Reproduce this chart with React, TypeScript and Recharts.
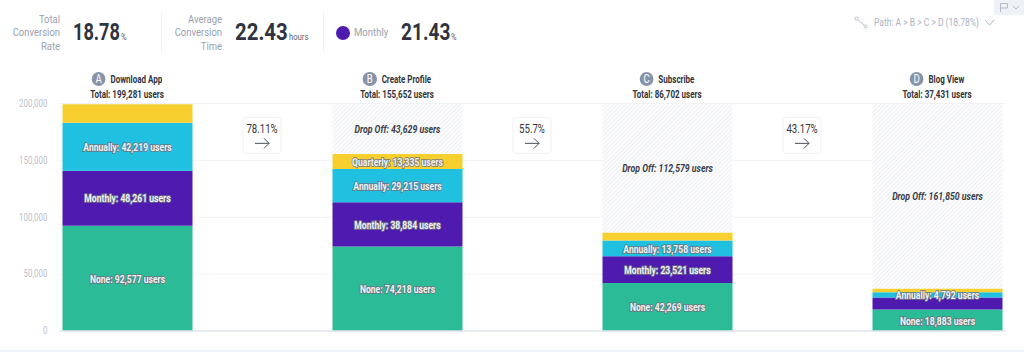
import { Bar, BarChart, CartesianGrid, LabelList, ReferenceDot, ReferenceLine, XAxis, YAxis } from 'recharts';

const steps = ['Download App', 'Create Profile', 'Subscribe', 'Blog View'];
const letters = ['A', 'B', 'C', 'D'];
const totals = ['199,281', '155,652', '86,702', '37,431'];
const conversions = ['78.11%', '55.7%', '43.17%'];

const none = [92577, 74218, 42269, 18883];
const monthly = [48261, 38884, 23521, 10500];
const annually = [42219, 29215, 13758, 4792];
const quarterly = [16224, 13335, 7154, 3256];
const dropOff = [0, 43629, 112579, 161850];

const monthlyShown = [true, true, true, false];
const quarterlyShown = [false, true, false, false];
const yTicks = [0, 50000, 100000, 150000, 200000];

const FONT = 'Roboto, sans-serif';

// steps sit on every other band, the conversion cards on the bands between them
const data = steps.flatMap((step, i) => {
    const row = {
        name: step,
        none: none[i],
        monthly: monthly[i],
        annually: annually[i],
        quarterly: quarterly[i],
        dropOff: dropOff[i],
    };
    return i < conversions.length ? [row, { name: conversions[i] }] : [row];
});

const StepTick = ({ x, y, payload }: any) => {
    const i = steps.indexOf(payload.value);
    if (i < 0) return null;
    return (
        <foreignObject x={x - 100} y={y - 30} width={200} height={34}>
            <div style={{ fontFamily: FONT, color: '#30343c', fontSize: 10, fontWeight: 700, textAlign: 'center', lineHeight: '15px', transform: 'scaleX(0.8)' }}>
                <div style={{ display: 'flex', justifyContent: 'center', alignItems: 'center', gap: 6 }}>
                    <span style={{ width: 17.5, height: 14, borderRadius: '50%', background: '#8793a8', color: '#fff', fontSize: 12, fontWeight: 400, lineHeight: '14px' }}>{letters[i]}</span>
                    <span>{payload.value}</span>
                </div>
                <div>Total: {totals[i]} users</div>
            </div>
        </foreignObject>
    );
};

const ValueTick = ({ x, y, payload }: any) => (
    <text transform={`translate(${x},${y}) scale(0.8,1)`} textAnchor="end" dominantBaseline="central" fontFamily={FONT} fontSize={10} fill="#bcc3ce">
        {payload.value.toLocaleString('en-US')}
    </text>
);

const segmentLabel = (title: string, shown?: boolean[]) => (props: any) => {
    const { x, y, width, height, value, index } = props;
    if (!value || (shown && !shown[index])) return null;
    return (
        <text
            transform={`translate(${x + width / 2},${y + height / 2 + 0.5}) scale(0.86,1)`}
            textAnchor="middle"
            dominantBaseline="central"
            fontFamily={FONT}
            fontSize={10}
            fontWeight={700}
            fill="#eef0f3"
            stroke="#6f7480"
            strokeWidth={2}
            strokeOpacity={0.8}
            paintOrder="stroke"
        >
            {title}: {value.toLocaleString('en-US')} users
        </text>
    );
};

const dropLabel = (props: any) => {
    const { x, y, width, height, value } = props;
    if (!value) return null;
    return (
        <text
            transform={`translate(${x + width / 2},${y + height / 2}) scale(0.87,1)`}
            textAnchor="middle"
            dominantBaseline="central"
            fontFamily={FONT}
            fontSize={10}
            fontWeight={700}
            fontStyle="italic"
            fill="#3a3f4a"
        >
            Drop Off: {value.toLocaleString('en-US')} users
        </text>
    );
};

const ConversionCard = (label: string) => ({ cx, cy }: any) => (
    <g>
        <rect x={cx - 19} y={cy - 18} width={38} height={36} rx={3} fill="#fff" stroke="#f0f1f4" />
        <text transform={`translate(${cx},${cy - 6}) scale(0.77,1)`} textAnchor="middle" dominantBaseline="central" fontFamily={FONT} fontSize={12.5} fill="#33373f">{label}</text>
        <path d={`M${cx - 7} ${cy + 8}H${cx + 7}M${cx + 2} ${cy + 3}L${cx + 7} ${cy + 8}L${cx + 2} ${cy + 13}`} fill="none" stroke="#4a4e57" strokeWidth={1} />
    </g>
);

const Metric = ({ lines, value, unit, right, unitLeft, squeeze }: { lines: string[]; value: string; unit: string; right: number; unitLeft: number; squeeze: number }) => (
    <>
        <div style={{ position: 'absolute', left: 0, top: 13, width: right, textAlign: 'right', fontSize: 11, lineHeight: '13.3px', color: '#98a1af', transform: 'scaleX(0.86)', transformOrigin: 'right' }}>
            {lines.map((line) => <div key={line}>{line}</div>)}
        </div>
        <div style={{ position: 'absolute', left: right + 12.5, top: 19, fontSize: 23, fontWeight: 700, lineHeight: '28px', color: '#2f3440', transform: `scaleX(${squeeze})`, transformOrigin: 'left' }}>{value}</div>
        <div style={{ position: 'absolute', left: unitLeft, top: 31, fontSize: 9, lineHeight: '12px', color: '#5a606c', transform: 'scaleX(0.85)', transformOrigin: 'left' }}>{unit}</div>
    </>
);

export default function App() {
    return (
        <div style={{ position: 'absolute', left: 0, top: 0, width: 1024, height: 352, background: '#fff', overflow: 'hidden', fontFamily: FONT }}>
            <Metric lines={['Total', 'Conversion', 'Rate']} value="18.78" unit="%" right={60} unitLeft={121} squeeze={0.79} />
            <div style={{ position: 'absolute', left: 161, top: 13, width: 1, height: 39, background: '#eef0f3' }} />
            <Metric lines={['Average', 'Conversion', 'Time']} value="22.43" unit="hours" right={222} unitLeft={289} squeeze={0.887} />
            <div style={{ position: 'absolute', left: 323, top: 13, width: 1, height: 39, background: '#eef0f3' }} />
            <div style={{ position: 'absolute', left: 336, top: 25.5, width: 14, height: 14, borderRadius: 7, background: '#4f1ab0' }} />
            <Metric lines={[]} value="21.43" unit="%" right={388} unitLeft={451} squeeze={0.83} />
            <div style={{ position: 'absolute', left: 353.5, top: 26, fontSize: 11, lineHeight: '14px', color: '#98a1af', transform: 'scaleX(0.87)', transformOrigin: 'left' }}>Monthly</div>

            <svg style={{ position: 'absolute', left: 854, top: 16 }} width={14} height={14}>
                <circle cx={2.5} cy={2.5} r={1.5} fill="none" stroke="#b4bbc6" />
                <circle cx={11.5} cy={10.5} r={1.5} fill="none" stroke="#b4bbc6" />
                <path d="M4 4L10 9" stroke="#b4bbc6" />
            </svg>
            <div style={{ position: 'absolute', left: 873.5, top: 16, fontSize: 10, lineHeight: '14px', color: '#aab2bf', whiteSpace: 'nowrap', transform: 'scaleX(0.85)', transformOrigin: 'left' }}>Path: A &gt; B &gt; C &gt; D (18.78%)</div>
            <svg style={{ position: 'absolute', left: 984, top: 19 }} width={12} height={8}>
                <path d="M1 1L5.5 6L10 1" fill="none" stroke="#aab2bf" />
            </svg>
            <div style={{ position: 'absolute', left: 994, top: 0, width: 30, height: 15, background: '#eef1f6' }}>
                <svg style={{ position: 'absolute', left: 5, top: 2 }} width={22} height={11}>
                    <path d="M1.5 10V1.5H8.5V6H1.5" fill="none" stroke="#b4bbc6" />
                    <path d="M14 4L17 7L20 4" fill="none" stroke="#b4bbc6" />
                </svg>
            </div>

            <div style={{ position: 'absolute', left: 0, top: 350, width: 1024, height: 2, background: '#eef1f6' }} />

            <div style={{ position: 'absolute', left: 0, top: 0 }}>
                <BarChart
                    width={1024}
                    height={352}
                    data={data}
                    margin={{ top: 0, right: 19.5, bottom: 21, left: 0 }}
                    barCategoryGap={0}
                    style={{ background: 'transparent' }}
                >
                    <defs>
                        <pattern id="hatch" width={3} height={3} patternUnits="userSpaceOnUse" patternTransform="rotate(-45)">
                            <rect width={3} height={3} fill="#fcfcfd" />
                            <line x1={0} y1={0} x2={3} y2={0} stroke="#e9ebf0" strokeWidth={1.5} />
                        </pattern>
                    </defs>
                    <CartesianGrid vertical={false} stroke="#f1f2f6" />
                    <XAxis dataKey="name" orientation="top" height={103.5} axisLine={false} tickLine={false} tickSize={0} interval={0} tick={<StepTick />} />
                    <YAxis
                        width={59.5}
                        domain={[0, 200000]}
                        ticks={yTicks}
                        axisLine={false}
                        tickLine={false}
                        tickMargin={6}
                        tick={<ValueTick />}
                    />
                    <Bar dataKey="none" stackId="funnel" barSize={130} fill="#2bbb96" isAnimationActive={false}>
                        <LabelList dataKey="none" content={segmentLabel('None')} />
                    </Bar>
                    <Bar dataKey="monthly" stackId="funnel" barSize={130} fill="#4f1ab0" isAnimationActive={false}>
                        <LabelList dataKey="monthly" content={segmentLabel('Monthly', monthlyShown)} />
                    </Bar>
                    <Bar dataKey="annually" stackId="funnel" barSize={130} fill="#1fc0e0" isAnimationActive={false}>
                        <LabelList dataKey="annually" content={segmentLabel('Annually')} />
                    </Bar>
                    <Bar dataKey="quarterly" stackId="funnel" barSize={130} fill="#f7d02f" isAnimationActive={false}>
                        <LabelList dataKey="quarterly" content={segmentLabel('Quarterly', quarterlyShown)} />
                    </Bar>
                    <Bar dataKey="dropOff" stackId="funnel" barSize={130} fill="url(#hatch)" isAnimationActive={false}>
                        <LabelList dataKey="dropOff" content={dropLabel} />
                    </Bar>
                    <ReferenceLine y={0} stroke="#e3e6ef" strokeWidth={1.5} />
                    {conversions.map((c) => (
                        <ReferenceDot key={c} x={c} y={172000} r={0} shape={ConversionCard(c)} />
                    ))}
                </BarChart>
            </div>
        </div>
    );
}
